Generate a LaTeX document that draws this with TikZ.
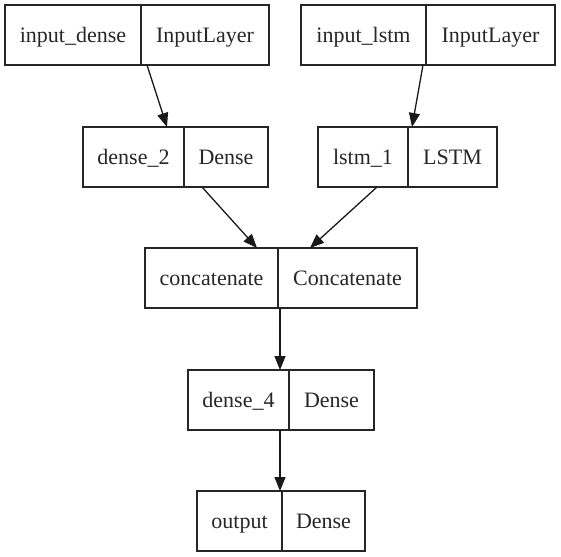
\documentclass[tikz,border=0pt]{standalone}
\usepackage{fontspec}
\setmainfont{Liberation Serif}
\usetikzlibrary{arrows.meta}
\begin{document}
\begin{tikzpicture}[x=1pt,y=-1pt,
  half/.style={draw=black!85, line width=1.3pt, minimum height=60pt, inner sep=0pt, outer sep=0pt,
    anchor=north west, text height=15pt, text depth=0pt,
    font=\fontsize{22}{26}\selectfont, text=black!85},
  arr/.style={line width=1.3pt, draw=black!90, -{Triangle[length=14pt,width=11pt]}}]
\useasboundingbox (0,0) rectangle (561,556);
% row 1
\node[half, minimum width=136pt] (idl) at (5,5) {input\_dense};
\node[half, minimum width=128pt] (idr) at (idl.north east) {InputLayer};
\node[half, minimum width=125pt] (ill) at (301,5) {input\_lstm};
\node[half, minimum width=129pt] (ilr) at (ill.north east) {InputLayer};
% row 2
\node[half, minimum width=101pt] (d2l) at (83,127) {dense\_2};
\node[half, minimum width=84pt] (d2r) at (d2l.north east) {Dense};
\node[half, minimum width=90pt] (l1l) at (318,127) {lstm\_1};
\node[half, minimum width=89pt] (l1r) at (l1l.north east) {LSTM};
% row 3
\node[half, minimum width=133pt] (ccl) at (145,248) {concatenate};
\node[half, minimum width=139pt] (ccr) at (ccl.north east) {Concatenate};
% row 4
\node[half, minimum width=101pt] (d4l) at (188,370) {dense\_4};
\node[half, minimum width=85pt] (d4r) at (d4l.north east) {Dense};
% row 5
\node[half, minimum width=85pt] (outl) at (197,491) {output};
\node[half, minimum width=83pt] (outr) at (outl.north east) {Dense};
% connectors
\draw[arr] ([xshift=6pt]idl.south east) -- ([xshift=-17pt]d2r.north west);
\draw[arr] ([xshift=-3pt]ilr.south west) -- ([xshift=4pt]l1r.north west);
\draw[arr] ([xshift=18pt]d2r.south west) -- ([xshift=-21pt]ccr.north west);
\draw[arr] ([xshift=-31pt]l1r.south west) -- ([xshift=32pt]ccr.north west);
\draw[arr] ([xshift=2pt]ccr.south west) -- ([xshift=-9pt]d4r.north west);
\draw[arr] ([xshift=-9pt]d4r.south west) -- ([xshift=-2pt]outr.north west);
\end{tikzpicture}
\end{document}
